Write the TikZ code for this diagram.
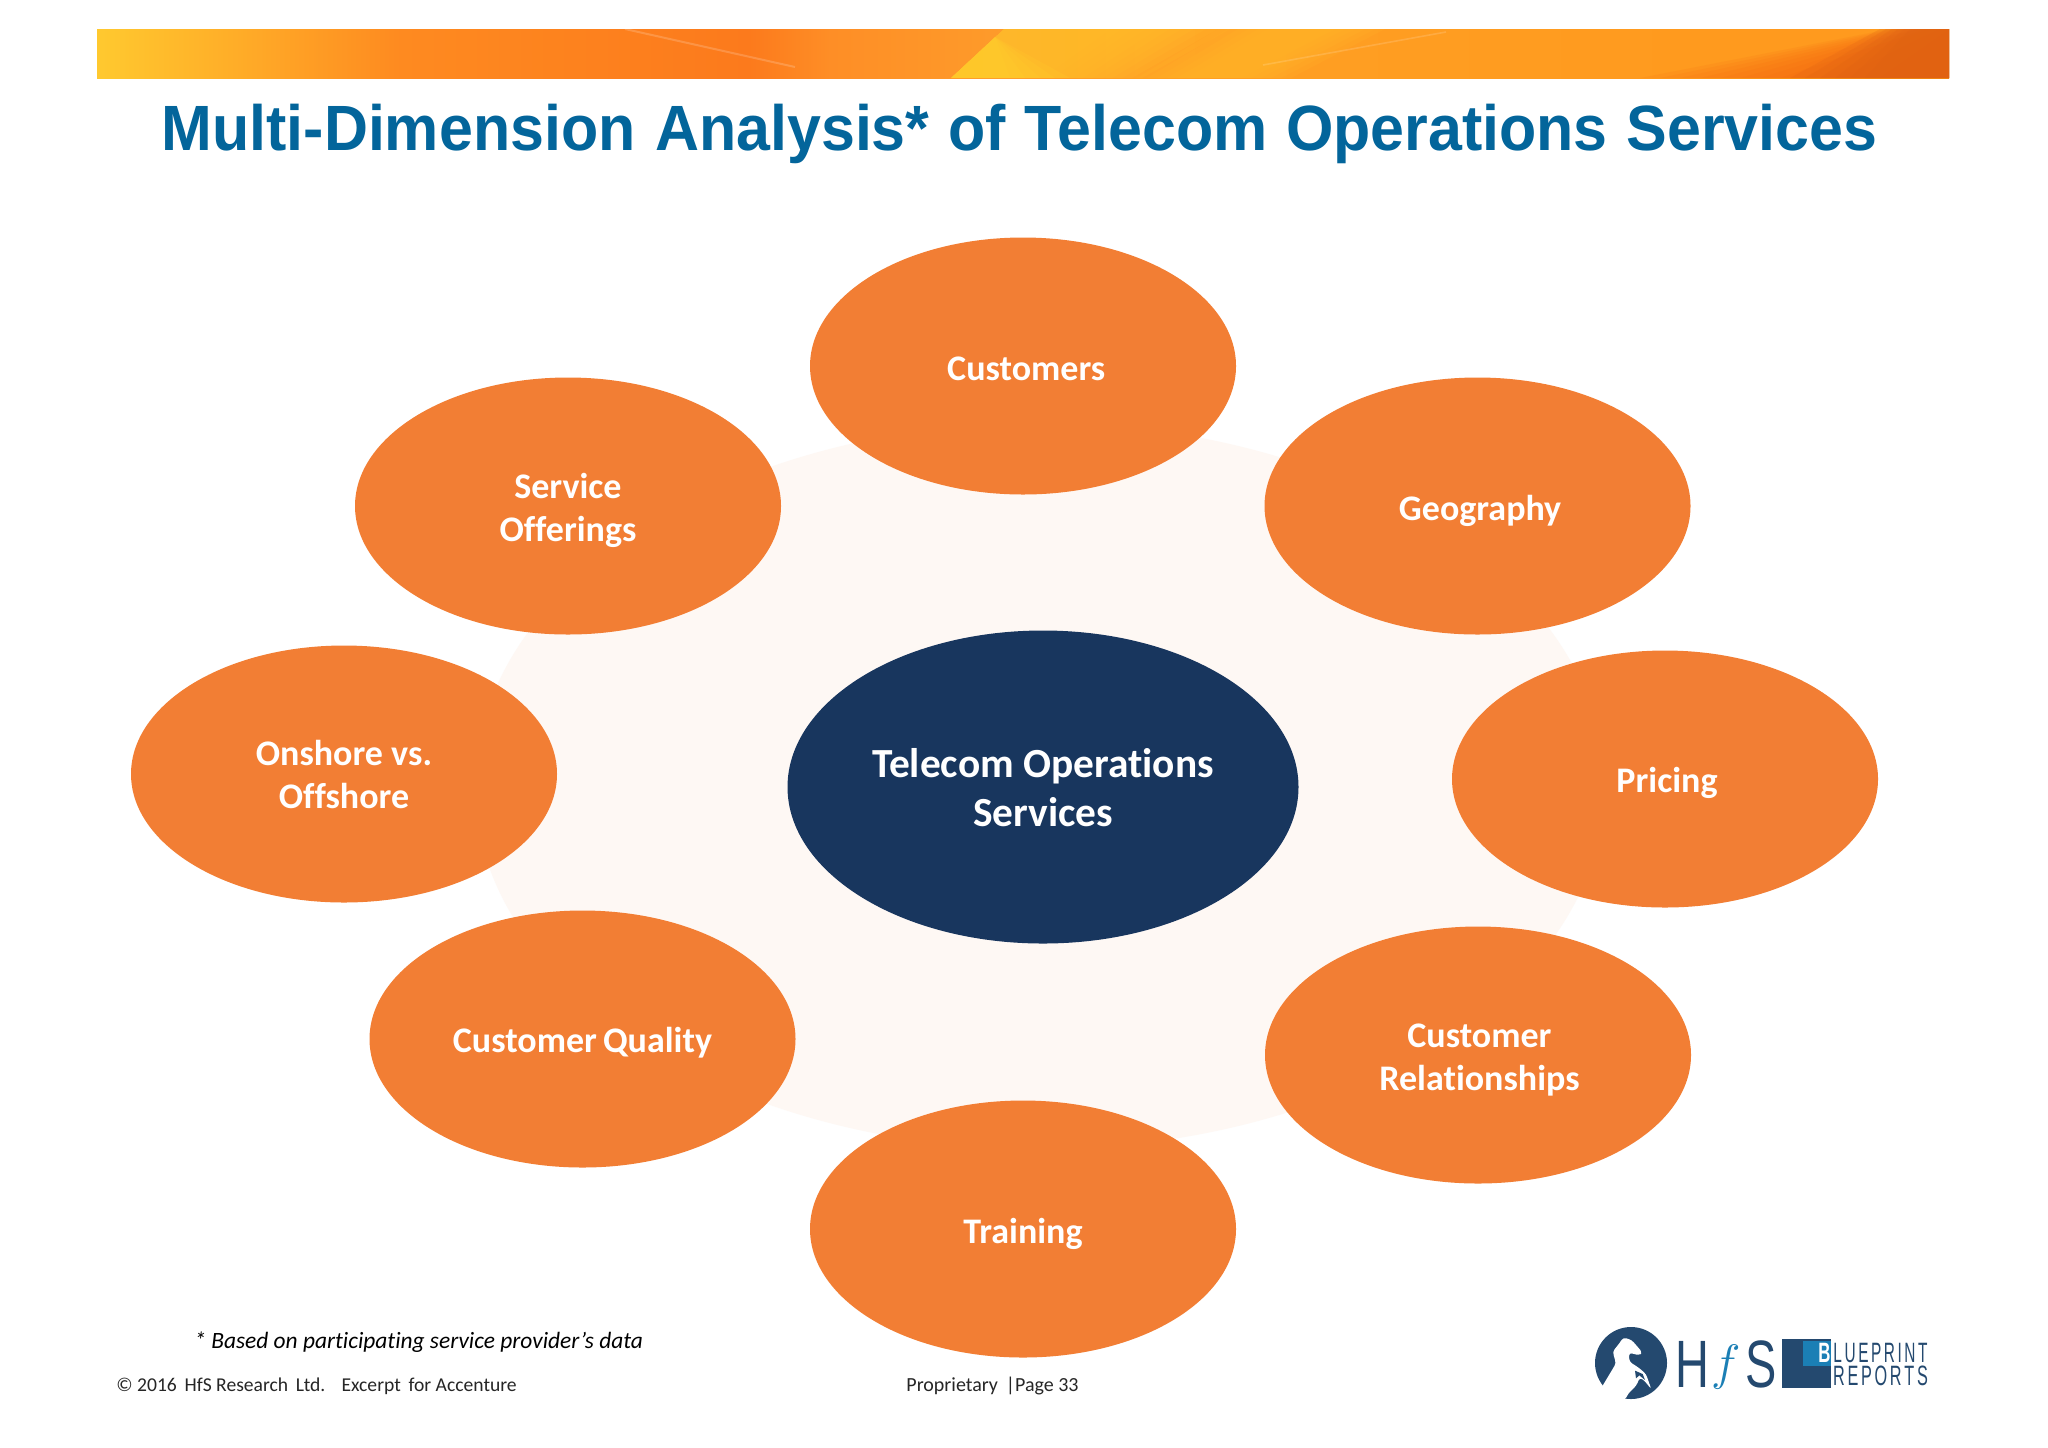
\documentclass[tikz,border=0pt]{standalone}
\usepackage{fontspec}
\usetikzlibrary{shapes.geometric}
\setmainfont{Carlito}[Ligatures=NoCommon]
\newfontfamily\titlefont{Liberation Sans}
\newfontfamily\logofont{Liberation Sans}
\definecolor{orangeN}{HTML}{F27E34}
\definecolor{navyN}{HTML}{18365E}
\definecolor{paleN}{HTML}{FEF8F4}
\definecolor{titleblue}{HTML}{03659B}
\definecolor{logonavy}{HTML}{24496F}
\definecolor{logoblue}{HTML}{1B7FB5}
\definecolor{FC1}{HTML}{FFC92F}
\definecolor{FC2}{HTML}{FFAE28}
\definecolor{FC3}{HTML}{FE8A20}
\definecolor{FC4}{HTML}{FC7A1C}
\definecolor{FC5}{HTML}{FE8E26}
\definecolor{FC6}{HTML}{FE9B2A}
\definecolor{FC7}{HTML}{FFA024}
\definecolor{FC8}{HTML}{FF9A1E}
\definecolor{FC9}{HTML}{DE6215}
\definecolor{SwB}{HTML}{FFBE2C}
\definecolor{SwC}{HTML}{FFD62E}
\definecolor{SwD}{HTML}{FFB82A}
\definecolor{SwF}{HTML}{F5650F}
\pgfdeclarehorizontalshading{barshade}{100bp}{
 color(0bp)=(FC1);color(25bp)=(FC1);color(28.6bp)=(FC2);color(33.2bp)=(FC3);color(42.6bp)=(FC4);color(44.8bp)=(FC5);
 color(49.5bp)=(FC6);color(53.4bp)=(FC7);color(68.2bp)=(FC8);color(75bp)=(FC8);color(100bp)=(FC8)}
\tikzset{
 orangeblob/.style={ellipse,fill=orangeN,minimum width=213pt,minimum height=128.5pt,inner sep=0pt,text=white,align=center,font=\fontsize{18}{21.5}\selectfont\bfseries},
 centerblob/.style={ellipse,fill=navyN,minimum width=255.5pt,minimum height=156.5pt,inner sep=0pt,text=white,align=center,font=\fontsize{20.7}{24.5}\selectfont\bfseries},
 noteText/.style={inner sep=0pt,anchor=west,text=black},
}
\newcommand{\lab}[3]{\kern#1\kern#1\vbox{\kern#2\kern#2\hbox{#3}}}
\begin{document}
\begin{tikzpicture}[x=0.5pt,y=-0.5pt]
\useasboundingbox (0,0) rectangle (2048,1447);
\fill[white] (0,0) rectangle (2048,1447);
% banner
\path[shading=barshade] (97,29) rectangle (1949,78);
\begin{scope}
\clip (97,29) rectangle (1949,78);
\foreach \d in {0,10,...,100} \fill[SwB,opacity=.17] (951,78) -- (1004,29) -- ({1110+1.2*\d},29) -- ({1042+\d},78) -- cycle;
\foreach \d in {10,25,...,70} \fill[SwC,opacity=.16] (951,78) -- (995,37) -- ({1000+\d},78) -- cycle;
\foreach \d in {0,10,...,50} \fill[SwD,opacity=.17] ({1187-\d},78) -- ({1268-\d},29) -- ({1335+\d},29) -- ({1241+\d},78) -- cycle;
\foreach \d in {0,20,...,240} \fill[SwF,opacity=.12] ({1640+\d},78) -- ({1890+.25*\d},29) -- (1949,29) -- (1949,78) -- cycle;
\foreach \d in {0,15,...,75} \fill[FC9,opacity=.22] ({1790+\d},78) -- ({1880+.4*\d},29) -- (1949,29) -- (1949,78) -- cycle;
\draw[white,opacity=.18,line width=1pt] (625,29) -- (795,67);
\draw[white,opacity=.15,line width=.8pt] (1263,65) -- (1446,32);
\end{scope}
\node[font=\titlefont\bfseries\fontsize{32}{36}\selectfont,text=titleblue,inner sep=0pt,anchor=center,xscale=.952] (title) at (1019.5,134) {Multi-Dimension\hspace{1.5pt} Analysis*\hspace{1pt} of\hspace{1pt} Telecom\hspace{1pt} Operations\hspace{1pt} Services};
% pale background
\node[ellipse,fill=paleN,minimum width=565pt,minimum height=363pt,inner sep=0pt] (halo) at (1040,786) {};
% blobs
\node[orangeblob] (customers) at (1023,366) {\lab{1.6pt}{1.3pt}{Customers}};
\node[orangeblob] (offerings) at (568,506) {\lab{0pt}{2.6pt}{\begin{tabular}{@{}c@{}}Service\\Offerings\end{tabular}}};
\node[orangeblob] (geography) at (1477.5,506) {\lab{1.3pt}{2.6pt}{Geography}};
\node[orangeblob] (onshore) at (344,774) {\lab{0pt}{2pt}{\begin{tabular}{@{}c@{}}Onshore vs.\\Offshore\end{tabular}}};
\node[orangeblob] (pricing) at (1665,779) {\lab{1pt}{2pt}{Pricing}};
\node[orangeblob] (quality) at (582.5,1039) {\lab{0pt}{2pt}{Customer\hspace{-1pt} Quality}};
\node[orangeblob] (relations) at (1478,1055) {\lab{.7pt}{2.6pt}{\begin{tabular}{@{}c@{}}Customer\\Relationships\end{tabular}}};
\node[orangeblob] (training) at (1023,1229) {\lab{0pt}{2.6pt}{Training}};
\node[centerblob] (center) at (1043,787) {\lab{0pt}{2.6pt}{\begin{tabular}{@{}c@{}}Telecom Operations\\Services\end{tabular}}};
% footer
\node[noteText,font=\itshape\fontsize{11.7}{14}\selectfont] (note) at (194,1342) {* Based on participating service provider’s data};
\node[noteText,font=\fontsize{9.8}{12}\selectfont,text=black!85] (copy) at (116,1386) {© 2016\, HfS Research\, Ltd.\enspace\hspace{3.2pt}Excerpt\, for Accenture};
\node[noteText,font=\fontsize{10}{12}\selectfont,text=black!85] (page) at (906,1386) {Proprietary\, |Page 33};
% logo
\node[circle,fill=logonavy,minimum size=36pt,inner sep=0pt] (horseball) at (1631,1363) {};
\begin{scope}[shift={(1560,1300)},scale=0.3333]
\fill[white,rounded corners=1.5pt] (190,112) -- (215,120) -- (247,157) -- (238,166) -- (207,158) -- (208,185) -- (236,203) -- (258,222) -- (274,268) -- (256,245) -- (240,232) -- (228,258) -- (205,280) -- (195,300) -- (160,290) -- (125,262) -- (168,190) -- (158,155) -- (178,130) -- cycle;
\fill[logonavy] (225,212) -- (248,222) -- (255,240) -- (238,226) -- (228,235) -- cycle;
\end{scope}
\node[font=\logofont\fontsize{33.5}{34}\selectfont,text=logonavy,inner sep=0pt,xscale=.7] (logoH) at (1692,1364) {H};
\node[font=\fontsize{50}{50}\selectfont,text=logoblue,inner sep=0pt] (logoF) at (1726,1367) {$f$};
\node[font=\logofont\fontsize{33.5}{34}\selectfont,text=logonavy,inner sep=0pt,xscale=.7] (logoS) at (1761,1364) {S};
\fill[logonavy] (1782,1339) rectangle (1831,1388);
\fill[logoblue] (1803,1341) rectangle (1831,1366);
\node[font=\logofont\bfseries\fontsize{14}{14}\selectfont,text=white,inner sep=0pt,xscale=.6] (logoB) at (1824.5,1353) {B};
\node[font=\logofont\fontsize{14}{14}\selectfont,text=logonavy,inner sep=0pt,xscale=.55] (logoTop) at (1880.5,1353) {L\,U\,E\,P\,R\,I\,N\,T};
\node[font=\logofont\fontsize{14}{14}\selectfont,text=logonavy,inner sep=0pt,xscale=.58] (logoBot) at (1880.5,1376) {R\,E\,P\,O\,R\,T\,S};
\end{tikzpicture}
\end{document}
